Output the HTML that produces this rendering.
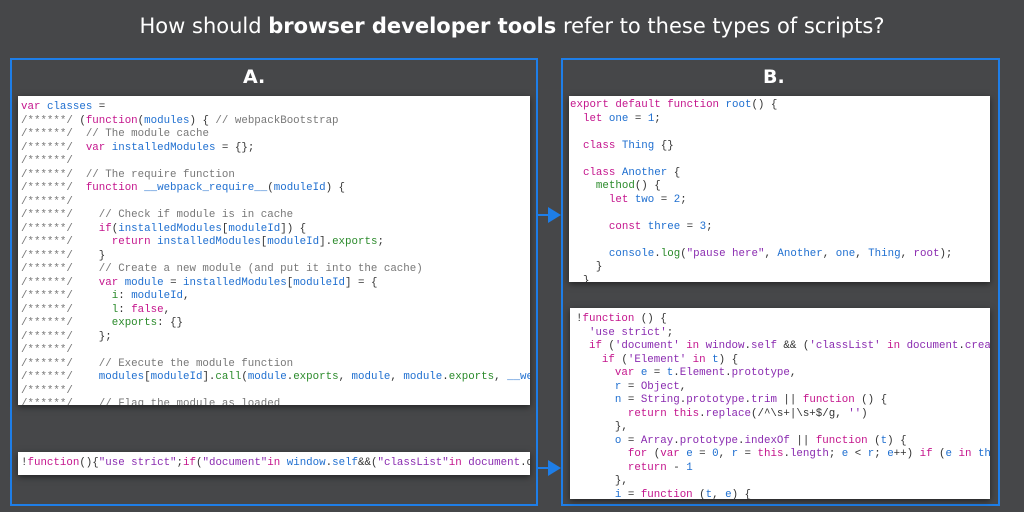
<!DOCTYPE html>
<html><head><meta charset="utf-8"><style>
body{margin:0;width:1024px;height:512px;background:#464749;position:relative;overflow:hidden;font-family:"DejaVu Sans","Liberation Sans",sans-serif}
.t{position:absolute;left:0;width:1024px;top:14px;text-align:center;color:#fff;font-size:21px}
.box{position:absolute;border:2px solid #1e7ee8;box-sizing:border-box}
.lbl{position:absolute;color:#fff;font-size:19px;font-weight:bold}
.p{position:absolute;background:#fff;overflow:hidden;box-shadow:0 2px 6px rgba(0,0,0,.5)}
pre{margin:0;font-family:"Liberation Mono",monospace;font-size:10.8px;line-height:13.5px;color:#333;white-space:pre}
.k{color:#c4148c}.b{color:#1f6fd0}.g{color:#2a8a2a}.c{color:#777}.u{color:#8a2bb0}
</style></head><body>
<div class="t">How should <b>browser developer tools</b> refer to these types of scripts?</div>
<div class="box" style="left:10px;top:58px;width:528px;height:448px"></div>
<div class="box" style="left:561px;top:58px;width:439px;height:448px"></div>
<div class="lbl" style="left:243px;top:66px">A.</div>
<div class="lbl" style="left:763px;top:66px">B.</div>
<div class="p" style="left:18px;top:96px;width:512px;height:309px"><pre style="padding:5px 0 0 3px"><span class="k">var</span> <span class="b">classes</span> =
<span class="c">/******/</span> (<span class="k">function</span>(<span class="b">modules</span>) { <span class="c">// webpackBootstrap</span>
<span class="c">/******/</span>  <span class="c">// The module cache</span>
<span class="c">/******/</span>  <span class="k">var</span> <span class="b">installedModules</span> = {};
<span class="c">/******/</span>
<span class="c">/******/</span>  <span class="c">// The require function</span>
<span class="c">/******/</span>  <span class="k">function</span> <span class="b">__webpack_require__</span>(<span class="b">moduleId</span>) {
<span class="c">/******/</span>
<span class="c">/******/</span>    <span class="c">// Check if module is in cache</span>
<span class="c">/******/</span>    <span class="k">if</span>(<span class="b">installedModules</span>[<span class="b">moduleId</span>]) {
<span class="c">/******/</span>      <span class="k">return</span> <span class="b">installedModules</span>[<span class="b">moduleId</span>].<span class="g">exports</span>;
<span class="c">/******/</span>    }
<span class="c">/******/</span>    <span class="c">// Create a new module (and put it into the cache)</span>
<span class="c">/******/</span>    <span class="k">var</span> <span class="b">module</span> = <span class="b">installedModules</span>[<span class="b">moduleId</span>] = {
<span class="c">/******/</span>      <span class="g">i</span>: <span class="b">moduleId</span>,
<span class="c">/******/</span>      <span class="g">l</span>: <span class="k">false</span>,
<span class="c">/******/</span>      <span class="g">exports</span>: {}
<span class="c">/******/</span>    };
<span class="c">/******/</span>
<span class="c">/******/</span>    <span class="c">// Execute the module function</span>
<span class="c">/******/</span>    <span class="b">modules</span>[<span class="b">moduleId</span>].<span class="g">call</span>(<span class="b">module</span>.<span class="g">exports</span>, <span class="b">module</span>, <span class="b">module</span>.<span class="g">exports</span>, <span class="b">__webpack_require__</span>);
<span class="c">/******/</span>
<span class="c">/******/</span>    <span class="c">// Flag the module as loaded</span></pre></div>
<div class="p" style="left:18px;top:452px;width:512px;height:23px"><pre style="padding:5px 0 0 3px">!<span class="k">function</span>(){<span class="u">"use strict"</span>;<span class="k">if</span>(<span class="u">"document"</span><span class="k">in</span> <span class="b">window</span>.<span class="b">self</span>&amp;&amp;(<span class="u">"classList"</span><span class="k">in</span> <span class="u">document</span>.createElement("_"))</pre></div>
<div class="p" style="left:569px;top:96px;width:421px;height:186px"><pre style="padding:3px 0 0 1px"><span class="k">export default function</span> <span class="b">root</span>() {
  <span class="k">let</span> <span class="b">one</span> = <span class="b">1</span>;

  <span class="k">class</span> <span class="b">Thing</span> {}

  <span class="k">class</span> <span class="b">Another</span> {
    <span class="g">method</span>() {
      <span class="k">let</span> <span class="b">two</span> = <span class="b">2</span>;

      <span class="k">const</span> <span class="b">three</span> = <span class="b">3</span>;

      <span class="b">console</span>.<span class="g">log</span>(<span class="u">"pause here"</span>, <span class="b">Another</span>, <span class="b">one</span>, <span class="b">Thing</span>, <span class="u">root</span>);
    }
  }</pre></div>
<div class="p" style="left:570px;top:308px;width:420px;height:191px"><pre style="padding:5px 0 0 6px">!<span class="k">function</span> () {
  <span class="u">'use strict'</span>;
  <span class="k">if</span> (<span class="u">'document'</span> <span class="k">in</span> <span class="u">window</span>.<span class="u">self</span> &amp;&amp; (<span class="u">'classList'</span> <span class="k">in</span> <span class="u">document</span>.<span class="u">createElement</span>('_'))) {
    <span class="k">if</span> (<span class="u">'Element'</span> <span class="k">in</span> <span class="b">t</span>) {
      <span class="k">var</span> <span class="b">e</span> = <span class="b">t</span>.<span class="u">Element</span>.<span class="u">prototype</span>,
      <span class="b">r</span> = <span class="u">Object</span>,
      <span class="b">n</span> = <span class="u">String</span>.<span class="u">prototype</span>.<span class="u">trim</span> || <span class="k">function</span> () {
        <span class="k">return</span> <span class="k">this</span>.<span class="u">replace</span>(/^\s+|\s+$/g, <span class="u">''</span>)
      },
      <span class="b">o</span> = <span class="u">Array</span>.<span class="u">prototype</span>.<span class="u">indexOf</span> || <span class="k">function</span> (<span class="b">t</span>) {
        <span class="k">for</span> (<span class="k">var</span> <span class="b">e</span> = <span class="b">0</span>, <span class="b">r</span> = <span class="k">this</span>.<span class="u">length</span>; <span class="b">e</span> &lt; <span class="b">r</span>; <span class="b">e</span>++) <span class="k">if</span> (<span class="b">e</span> <span class="k">in</span> <span class="b">this</span>)
        <span class="k">return</span> - <span class="b">1</span>
      },
      <span class="b">i</span> = <span class="k">function</span> (<span class="b">t</span>, <span class="b">e</span>) {</pre></div>
<svg style="position:absolute;left:0;top:0" width="1024" height="512">
<g fill="#1e7ee8" stroke="#1e7ee8" stroke-width="2">
<line x1="538" y1="215" x2="550" y2="215"/><polygon points="548,207 561,215 548,223" stroke="none"/>
<line x1="538" y1="468" x2="550" y2="468"/><polygon points="548,460 561,468 548,476" stroke="none"/>
</g></svg>
</body></html>
